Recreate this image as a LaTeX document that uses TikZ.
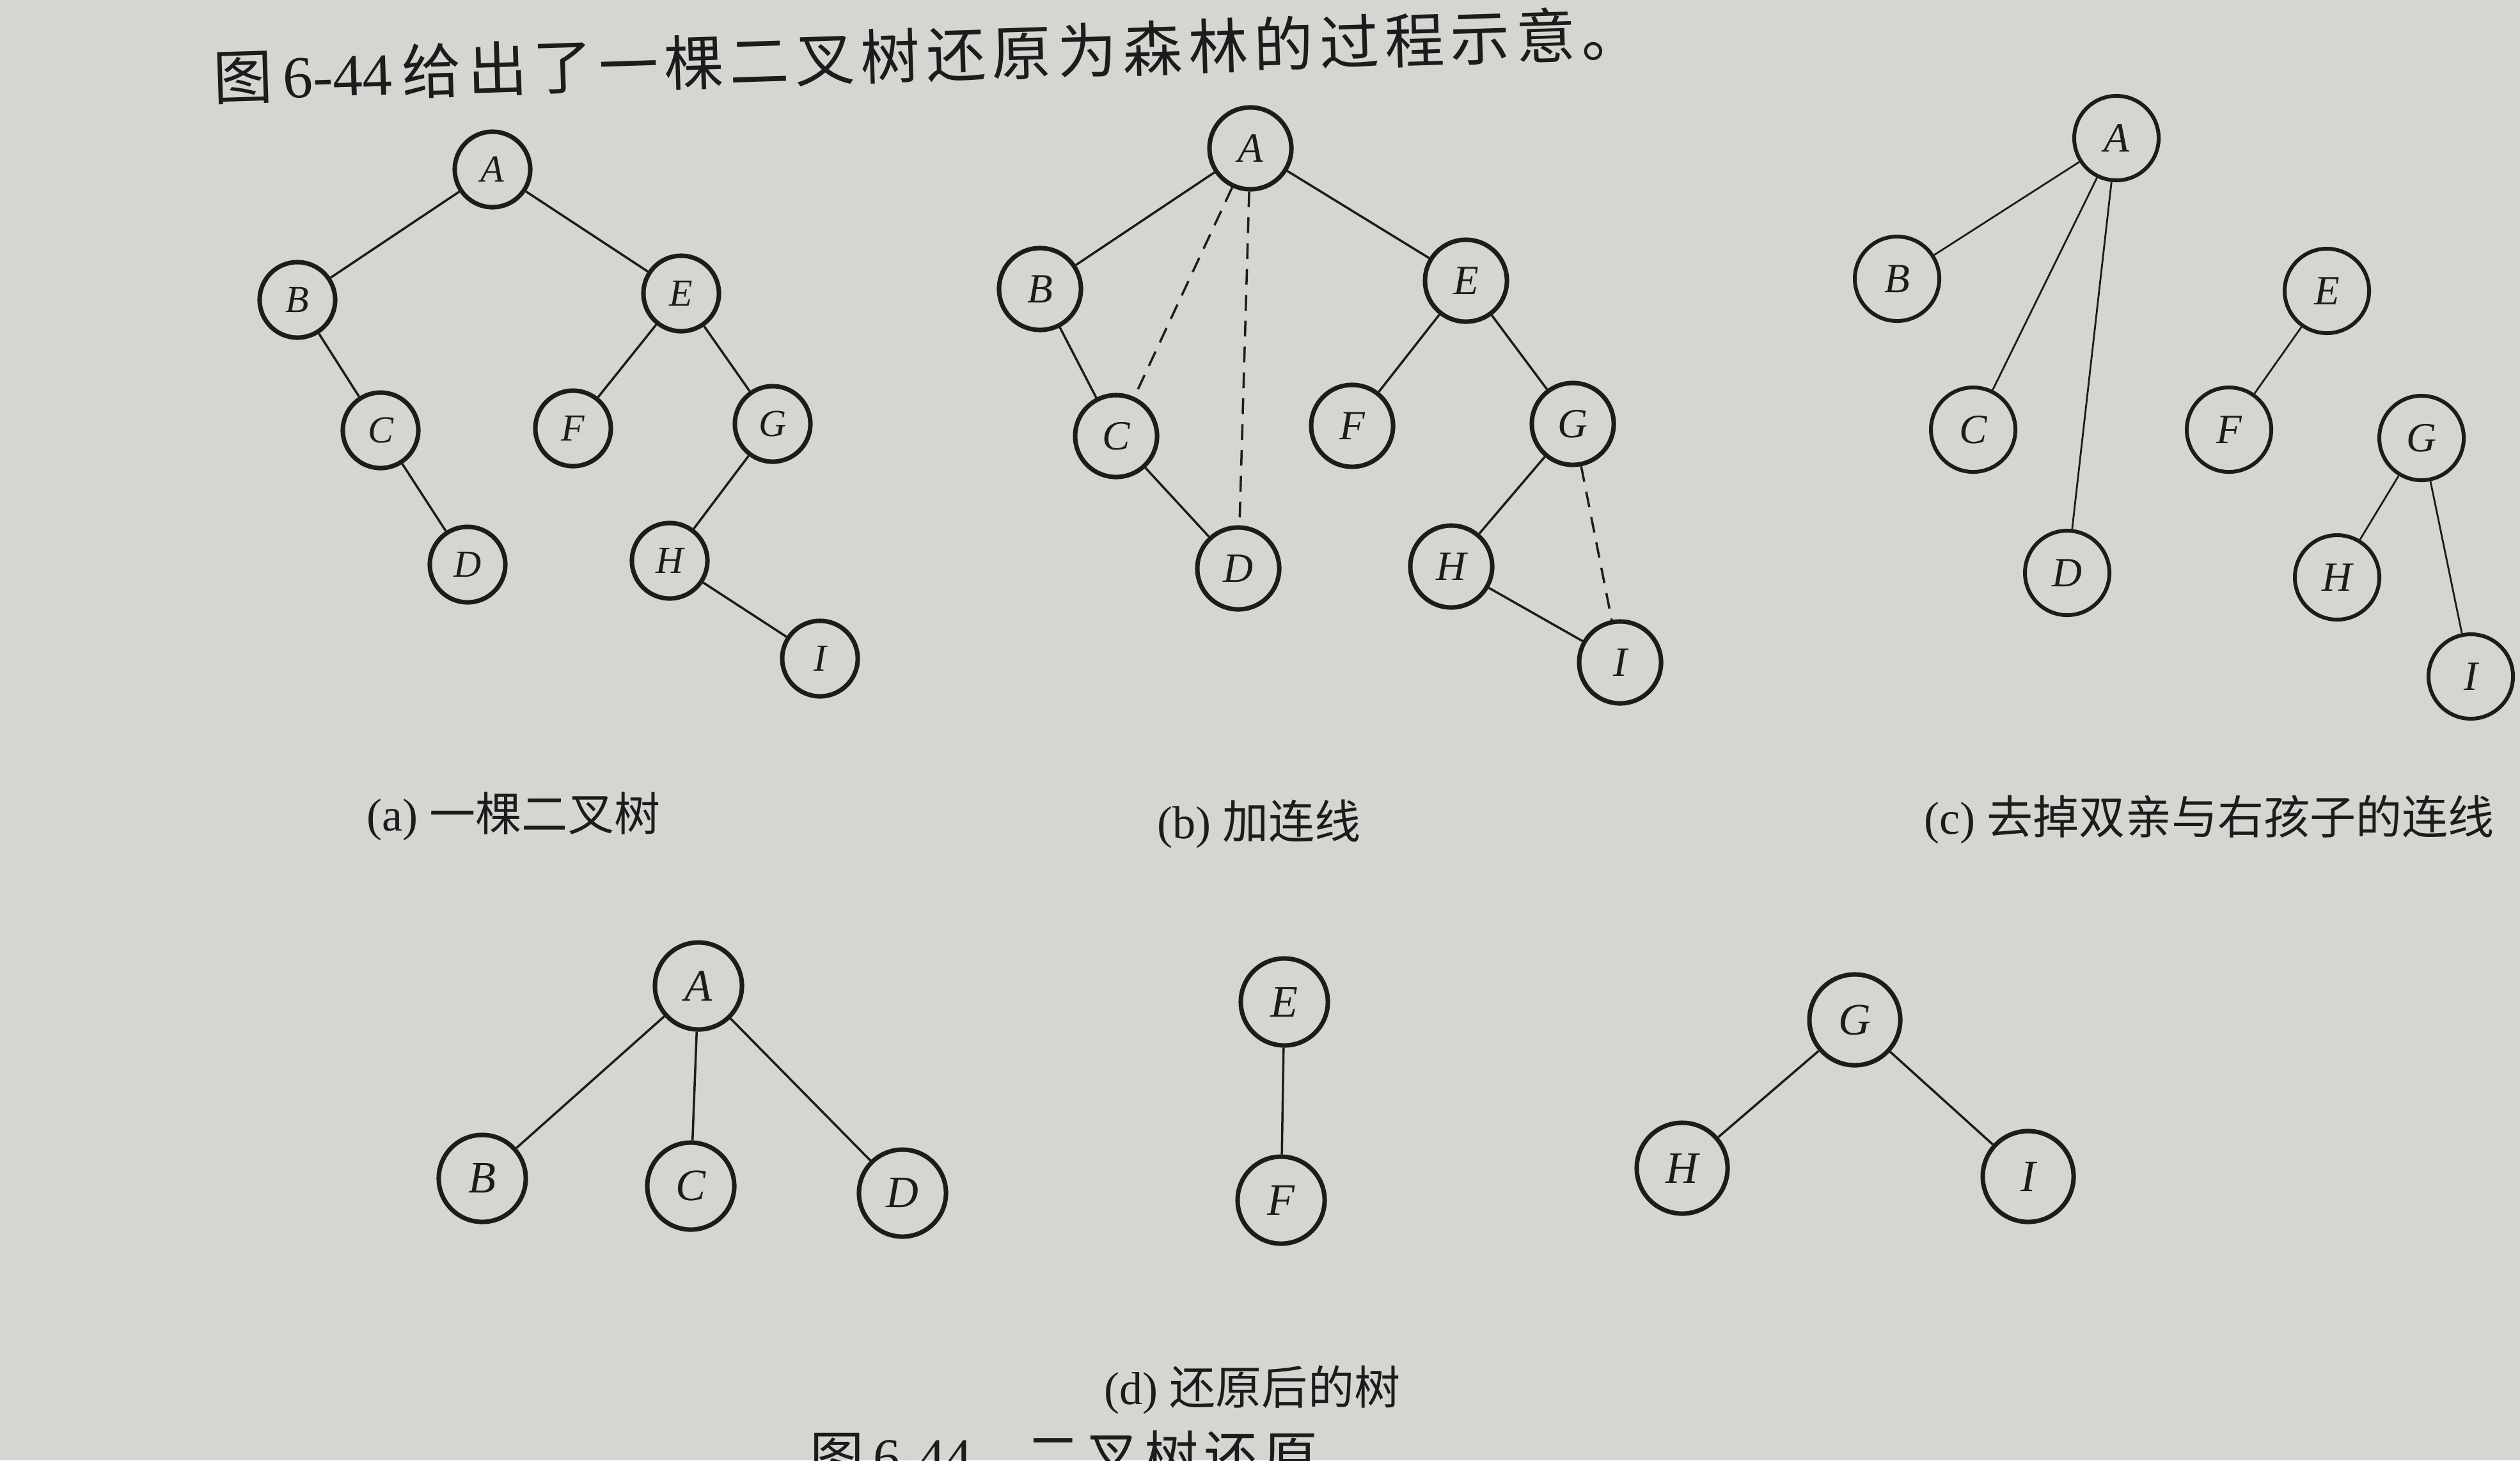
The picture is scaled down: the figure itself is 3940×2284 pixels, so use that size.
\documentclass[tikz,border=0pt]{standalone}
\usepackage{fontspec}
\setmainfont{Liberation Serif}
\newfontfamily\cjkcap[LetterSpace=10]{Noto Sans CJK SC}
\newfontfamily\cjklab{Noto Sans CJK SC}
\definecolor{paper}{RGB}{213,213,209}
\definecolor{ink}{RGB}{28,28,28}
\begin{document}
\begin{tikzpicture}[x=0.01cm,y=-0.01cm,
  tn/.style={circle,draw=ink,line width=2pt,inner sep=0pt,text=ink},
  ta/.style={tn,minimum size=1.18cm,font=\itshape\fontsize{17}{19}\selectfont},
  tb/.style={tn,minimum size=1.28cm,font=\itshape\fontsize{18.5}{20}\selectfont},
  tc/.style={tn,minimum size=1.32cm,line width=1.7pt,font=\itshape\fontsize{18.5}{20}\selectfont},
  td/.style={tn,minimum size=1.36cm,font=\itshape\fontsize{20}{22}\selectfont},
  te/.style={tn,minimum size=1.42cm,font=\itshape\fontsize{20}{22}\selectfont},
  con/.style={draw=ink,line width=1pt},
  thin/.style={draw=ink,line width=0.8pt},
  dl/.style={draw=ink,line width=1pt,dash pattern=on 7pt off 4.5pt},
  lab/.style={anchor=west,inner sep=0pt,text=ink,font=\fontsize{20.5}{22}\selectfont}]
\fill[paper] (0,0) rectangle (3940,2284);
\useasboundingbox (0,0) rectangle (3940,2284);
\clip (0,0) rectangle (3940,2284);

% top caption
\node[anchor=west,inner sep=0pt,text=ink,rotate=1.8,font=\fontsize{26.5}{29}\selectfont] (cap) at (333,121)
  {{\cjkcap 图}\,6-44\,{\cjkcap 给出了一棵二叉树还原为森林的过程示意。}};

% (a)
\node[ta] (aA) at (770,265) {A};
\node[ta] (aB) at (465,469) {B};
\node[ta] (aE) at (1065,459) {E};
\node[ta] (aC) at (595,673) {C};
\node[ta] (aF) at (896,670) {F};
\node[ta] (aG) at (1208,663) {G};
\node[ta] (aD) at (731,883) {D};
\node[ta] (aH) at (1047,877) {H};
\node[ta] (aI) at (1282,1030) {I};
\draw[con] (aA) -- (aB);
\draw[con] (aA) -- (aE);
\draw[con] (aB) -- (aC);
\draw[con] (aC) -- (aD);
\draw[con] (aE) -- (aF);
\draw[con] (aE) -- (aG);
\draw[con] (aG) -- (aH);
\draw[con] (aH) -- (aI);
\node[lab] (la) at (573,1277) {(a) {\cjklab 一棵二叉树}};

% (b)
\node[tb] (bA) at (1955,232) {A};
\node[tb] (bB) at (1626,452) {B};
\node[tb] (bE) at (2292,439) {E};
\node[tb] (bC) at (1745,682) {C};
\node[tb] (bF) at (2114,666) {F};
\node[tb] (bG) at (2459,663) {G};
\node[tb] (bD) at (1936,889) {D};
\node[tb] (bH) at (2269,886) {H};
\node[tb] (bI) at (2533,1036) {I};
\draw[con] (bA) -- (bB);
\draw[con] (bA) -- (bE);
\draw[con] (bB) -- (bC);
\draw[con] (bC) -- (bD);
\draw[con] (bE) -- (bF);
\draw[con] (bE) -- (bG);
\draw[con] (bG) -- (bH);
\draw[con] (bH) -- (bI);
\draw[dl] (bA) -- (bC);
\draw[dl] (bA) -- (bD);
\draw[dl] (bG) -- (bI);
\node[lab] (lb) at (1809,1289) {(b) {\cjklab 加连线}};

% (c)
\node[tc] (cA) at (3309,216) {A};
\node[tc] (cB) at (2966,436) {B};
\node[tc] (cC) at (3085,672) {C};
\node[tc] (cD) at (3232,896) {D};
\node[tc] (cE) at (3638,455) {E};
\node[tc] (cF) at (3485,672) {F};
\node[tc] (cG) at (3786,685) {G};
\node[tc] (cH) at (3654,903) {H};
\node[tc] (cI) at (3863,1058) {I};
\draw[thin] (cA) -- (cB);
\draw[thin] (cA) -- (cC);
\draw[thin] (cA) -- (cD);
\draw[thin] (cE) -- (cF);
\draw[thin] (cG) -- (cH);
\draw[thin] (cG) -- (cI);
\node[lab] (lc) at (3008,1282) {(c) {\cjklab 去掉双亲与右孩子的连线}};

% (d)
\node[td] (dA) at (1092,1542) {A};
\node[td] (dB) at (754,1843) {B};
\node[td] (dC) at (1080,1855) {C};
\node[td] (dD) at (1411,1866) {D};
\node[td] (dE) at (2008,1567) {E};
\node[td] (dF) at (2003,1877) {F};
\node[te] (dG) at (2900,1595) {G};
\node[te] (dH) at (2630,1827) {H};
\node[te] (dI) at (3171,1840) {I};
\draw[con] (dA) -- (dB);
\draw[con] (dA) -- (dC);
\draw[con] (dA) -- (dD);
\draw[con] (dE) -- (dF);
\draw[con] (dG) -- (dH);
\draw[con] (dG) -- (dI);
\node[lab] (ld) at (1726,2174) {(d) {\cjklab 还原后的树}};

% bottom caption (cut off by the page edge, as in the photo)
\node[anchor=base west,inner sep=0pt,text=ink,font=\fontsize{24}{26}\selectfont] (bcap) at (1266,2308)
  {{\cjkcap 图}\,6-44\quad{\cjkcap 二叉树还原}};
\end{tikzpicture}
\end{document}
